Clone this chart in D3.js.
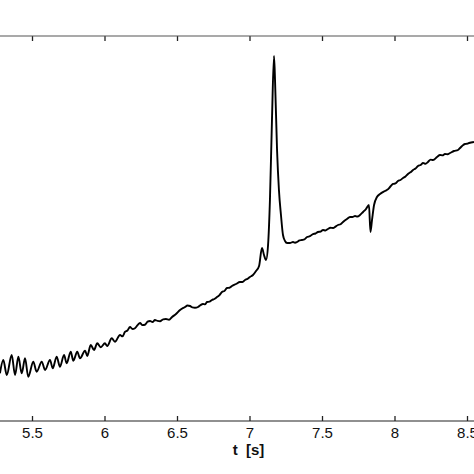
<!DOCTYPE html>
<html>
<head>
<meta charset="utf-8">
<script src="https://cdn.jsdelivr.net/npm/d3@7"></script>
<style>
  html, body { margin: 0; padding: 0; background: #fff; }
  svg { display: block; }
</style>
</head>
<body>
<svg id="chart" width="474" height="474"></svg>
<script>
// time [s]
const timeValues = [
  5.279, 5.302, 5.326, 5.360, 5.383, 5.406, 5.429, 5.452, 5.474, 5.509,
  5.532, 5.567, 5.590, 5.624, 5.643, 5.670, 5.693, 5.721, 5.739, 5.767,
  5.785, 5.812, 5.831, 5.866, 5.881, 5.905, 5.928, 5.950, 5.974, 6.003,
  6.019, 6.050, 6.072, 6.107, 6.124, 6.141, 6.158, 6.176, 6.193, 6.210,
  6.228, 6.245, 6.262, 6.279, 6.297, 6.314, 6.331, 6.348, 6.366, 6.383,
  6.404, 6.424, 6.445, 6.466, 6.493, 6.521, 6.555, 6.572, 6.590, 6.607,
  6.624, 6.645, 6.662, 6.679, 6.693, 6.707, 6.724, 6.741, 6.758, 6.776,
  6.793, 6.810, 6.828, 6.845, 6.862, 6.879, 6.907, 6.934, 6.952, 6.969,
  6.986, 7.003, 7.024, 7.045, 7.066, 7.086, 7.100, 7.114, 7.128, 7.141,
  7.155, 7.169, 7.176, 7.190, 7.203, 7.217, 7.231, 7.245, 7.259, 7.279,
  7.300, 7.314, 7.328, 7.345, 7.362, 7.380, 7.397, 7.417, 7.438, 7.455,
  7.472, 7.490, 7.507, 7.524, 7.541, 7.558, 7.576, 7.593, 7.610, 7.628,
  7.645, 7.672, 7.693, 7.710, 7.728, 7.745, 7.762, 7.783, 7.803, 7.824,
  7.834, 7.845, 7.859, 7.879, 7.900, 7.934, 7.952, 7.969, 7.990, 8.007,
  8.024, 8.041, 8.059, 8.076, 8.093, 8.110, 8.128, 8.145, 8.162, 8.180,
  8.197, 8.214, 8.231, 8.249, 8.266, 8.293, 8.314, 8.331, 8.348, 8.366,
  8.383, 8.410, 8.438, 8.452, 8.466, 8.486, 8.500, 8.514, 8.548
];
// signal (arbitrary units)
const signalValues = [
  12.39, 15.84, 11.95, 17.14, 11.95, 16.70, 12.39, 16.29, 11.51, 15.40,
  12.81, 15.40, 13.25, 15.84, 13.69, 16.70, 14.10, 17.14, 14.99, 18.00,
  15.66, 18.00, 16.29, 18.26, 16.88, 19.74, 18.44, 20.18, 19.14, 20.18,
  19.48, 21.48, 20.60, 22.34, 22.00, 23.12, 23.50, 24.42, 23.90, 24.10,
  24.90, 25.45, 24.90, 25.00, 25.80, 25.97, 25.70, 26.23, 26.00, 25.90,
  26.40, 26.49, 26.30, 27.01, 27.79, 28.83, 29.61, 30.00, 29.87, 29.50,
  29.40, 29.61, 30.10, 30.39, 30.30, 30.91, 31.00, 31.43, 31.70, 32.21,
  32.70, 33.51, 33.80, 34.55, 34.60, 35.06, 35.58, 36.10, 36.10, 36.62,
  36.90, 37.40, 37.92, 38.96, 40.26, 44.94, 43.12, 41.82, 45.71, 57.40,
  78.18, 94.81, 88.57, 70.39, 60.00, 53.51, 48.31, 46.75, 46.23, 46.23,
  46.49, 46.30, 46.49, 46.90, 47.01, 47.20, 47.79, 48.00, 48.57, 48.70,
  49.09, 49.20, 49.61, 49.50, 49.87, 50.20, 50.13, 50.50, 50.91, 51.10,
  51.69, 52.47, 52.99, 53.00, 53.25, 53.10, 53.51, 54.29, 55.06, 56.10,
  49.09, 52.21, 56.10, 58.18, 58.96, 59.74, 60.10, 60.78, 61.56, 61.70,
  62.34, 62.60, 63.12, 63.50, 64.16, 64.60, 65.19, 65.60, 66.23, 66.50,
  67.01, 66.80, 67.27, 67.90, 67.79, 68.57, 69.09, 69.00, 69.35, 69.30,
  69.61, 70.13, 70.39, 70.90, 71.43, 71.95, 72.00, 72.21, 72.47
];
const tickValues = [5.5, 6, 6.5, 7, 7.5, 8, 8.5];
const tickLabels = ["5.5", "6", "6.5", "7", "7.5", "8", "8.5"];
const xLabel = "t  [s]";

const W = 474, H = 474;
const plotTop = 36, plotBottom = 421;
const svg = d3.select("#chart");
const FONT = "Arial, 'Liberation Sans', Helvetica, sans-serif";

const x = d3.scaleLinear().domain([5.5, 8.5]).range([32, 467]);
const y = d3.scaleLinear().domain([0, 100]).range([plotBottom, plotTop]);

const data = timeValues.map((t, i) => ({ t, v: signalValues[i] }));

svg.append("defs").append("clipPath").attr("id", "clip")
  .append("rect").attr("x", 0).attr("y", plotTop).attr("width", W).attr("height", plotBottom - plotTop);

svg.append("path")
  .datum(data)
  .attr("clip-path", "url(#clip)")
  .attr("fill", "none")
  .attr("stroke", "#000")
  .attr("stroke-width", 1.9)
  .attr("stroke-linejoin", "round")
  .attr("d", d3.line().curve(d3.curveMonotoneX).x(d => x(d.t)).y(d => y(d.v)));

// bottom axis
const xb = svg.append("g").attr("transform", `translate(0,${plotBottom})`)
  .call(d3.axisBottom(x).tickValues(tickValues)
    .tickFormat((d, i) => tickLabels[i])
    .tickSizeInner(-5).tickSizeOuter(0).tickPadding(6));
xb.select(".domain").remove();
xb.selectAll(".tick line").attr("stroke", "#222").attr("stroke-width", 1.3);
xb.selectAll(".tick text")
  .attr("font-family", FONT)
  .attr("font-size", 15).attr("fill", "#111");

// top axis
const xt = svg.append("g").attr("transform", `translate(0,${plotTop})`)
  .call(d3.axisTop(x).tickValues(tickValues).tickFormat("")
    .tickSizeInner(-5).tickSizeOuter(0));
xt.select(".domain").remove();
xt.selectAll(".tick line").attr("stroke", "#222").attr("stroke-width", 1.3);

// axis lines spanning the full width
svg.append("line").attr("x1", 0).attr("x2", W).attr("y1", plotBottom).attr("y2", plotBottom)
  .attr("stroke", "#222").attr("stroke-width", 1.2);
svg.append("line").attr("x1", 0).attr("x2", W).attr("y1", plotTop).attr("y2", plotTop)
  .attr("stroke", "#555").attr("stroke-width", 1.2);

svg.append("text")
  .attr("x", 248.5).attr("y", 455)
  .attr("text-anchor", "middle")
  .attr("font-family", FONT)
  .attr("font-size", 15).attr("font-weight", "bold").attr("fill", "#111")
  .attr("xml:space", "preserve")
  .style("white-space", "pre")
  .text(xLabel);
</script>
</body>
</html>
